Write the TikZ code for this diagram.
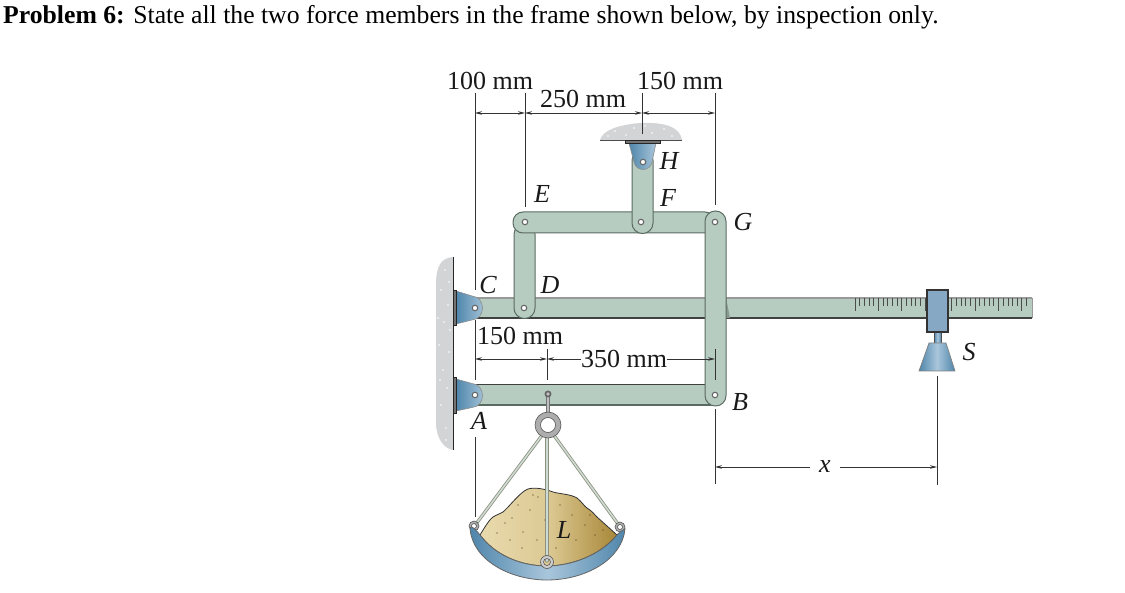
\documentclass[tikz,border=0pt]{standalone}
\usepackage{fontspec}
\setmainfont{Liberation Serif}
\usetikzlibrary{arrows.meta,shadings}
\definecolor{linkc}{HTML}{B6CCC0}
\definecolor{linke}{HTML}{5A6B62}
\definecolor{blu}{HTML}{86A8C4}
\definecolor{blul}{HTML}{A9C6DB}
\definecolor{blud}{HTML}{4F86AB}
\definecolor{wallc}{HTML}{D2D4D6}
\definecolor{sandl}{HTML}{E9DAAE}
\definecolor{sandm}{HTML}{DCC993}
\definecolor{sandr}{HTML}{A88738}
\definecolor{rim}{HTML}{8F8F7E}
\tikzset{
 txt/.style={inner sep=0pt,font=\fontsize{26}{28}\selectfont,text=black!90},
 lbl/.style={inner sep=0pt,font=\fontsize{26}{28}\selectfont\itshape,text=black!90},
 ext/.style={line width=0.9pt,draw=black!80},
 dimar/.style={line width=0.8pt,draw=black!80,{Stealth[length=7pt,width=3.6pt]}-{Stealth[length=7pt,width=3.6pt]}},
 dimone/.style={line width=0.8pt,draw=black!80,-{Stealth[length=7pt,width=3.6pt]}},
 linkshape/.style={fill=linkc,draw=linke,line width=1pt},
 pinnode/.style={circle,draw=black!60,fill=white,line width=1.1pt,minimum size=5.5pt,inner sep=0pt},
 brk/.style={draw=black!45,line width=0.6pt,left color=blud,right color=blul},
 plate/.style={fill=black!55,draw=black!85,line width=0.5pt},
 rope/.style={line width=3.2pt,draw=rim,line cap=round},
 ropein/.style={line width=1.6pt,draw=linkc!70!white,line cap=round},
 metal/.style={draw=black!65,fill=black!32,line width=0.6pt,even odd rule},
 speck/.style={fill=white},
 grain/.style={fill=black!70!brown},
}
\begin{document}
\begin{tikzpicture}[x=1pt,y=-1pt]
\useasboundingbox (0,0) rectangle (1125,593);
\fill[white] (0,0) rectangle (1125,593);
% title
\node[anchor=west,inner sep=0pt,font=\fontsize{25.7}{28}\selectfont] (title) at (3,17.5) {\textbf{Problem 6:} State all the two force members in the frame shown below, by inspection only.};
% wall
\fill[wallc] (453,257) .. controls (441,258) and (436,266) .. (436,285) -- (436,425) .. controls (437,440) and (445,449) .. (453,450) -- cycle;
\foreach \p/\r in {445/270,441/290,448/305,444/322,439/345,449/352,443/370,447/388,441/405,446/428,449/282,438/318,446/440,450/330,440/380}{
  \fill[speck] (\p,\r) circle (0.9pt);}
\draw[line width=0.9pt,black!85] (453,257) -- (453,450);
% ceiling
\fill[wallc] (600,140) .. controls (603,130) and (618,125) .. (640,123) .. controls (665,122) and (680,127) .. (682,140) -- cycle;
\foreach \p/\r in {615/131,626/135,634/128,652/133,664/129,672/136,608/136,645/126}{
  \fill[speck] (\p,\r) circle (0.8pt);}
\draw[line width=0.6pt,black!70] (600,140) -- (682,140);
% horizontal bars
\fill[linkc] (470,298) rectangle (1032,318);
\draw[line width=1.2pt,black!40] (470,298) -- (1032,298);
\draw[line width=1.2pt,black!75] (470,318) -- (1032,318);
\draw[line width=0.6pt,black!40] (1032,298) -- (1032,318);
\fill[linkc!75!black] (726,298) -- (730,318) -- (726,318) -- cycle;
\fill[linkc] (470,384) rectangle (715,405);
\draw[line width=0.9pt,black!75] (470,384) -- (715,384);
\draw[line width=1.2pt,linke] (470,405) -- (715,405);
% scale ticks
\foreach \i in {0,...,15}{
  \pgfmathsetmacro\xx{855+4.67*\i}
  \pgfmathtruncatemacro\mm{mod(\i,5)}
  \ifnum\mm=0 \draw[line width=0.6pt,black!70] (\xx,298) -- (\xx,311);
  \else \draw[line width=0.5pt,black!70] (\xx,298) -- (\xx,306); \fi}
\foreach \i in {0,...,16}{
  \pgfmathsetmacro\xx{951.7+4.67*\i}
  \pgfmathtruncatemacro\mm{mod(\i,5)}
  \ifnum\mm=0 \draw[line width=0.6pt,black!70] (\xx,298) -- (\xx,311);
  \else \draw[line width=0.5pt,black!70] (\xx,298) -- (\xx,306); \fi}
% links
\draw[linkshape,rounded corners=10.4pt] (514,224) -- (514,318.5) -- (535,318.5) -- (535,224) -- cycle;
\draw[linkshape,rounded corners=10pt] (715,212) -- (513,212) -- (513,233) -- (715,233) -- cycle;
\draw[linkshape,rounded corners=10.4pt] (632,150) -- (632,233.5) -- (653,233.5) -- (653,150) -- cycle;
\draw[linkshape,rounded corners=10.4pt] (705,211) rectangle (726,406);
% H bracket
\draw[brk] (629,143) -- (656,143) -- (652,162) .. controls (650,172) and (636,172) .. (634,162) -- cycle;
\draw[plate] (625.5,140) rectangle (660.5,143.5);
% C, A brackets
\draw[brk] (456,291) -- (472,296) .. controls (486,297) and (486,319) .. (472,320) -- (456,324) -- cycle;
\draw[plate] (453,290) rectangle (456.5,325);
\draw[brk] (456,379) -- (472,383.5) .. controls (486,384.5) and (486,406.5) .. (472,407.5) -- (456,411) -- cycle;
\draw[plate] (453,377) rectangle (456.5,413);
% pins
\node[pinnode] (E) at (525,222) {};
\node[pinnode] (F) at (641,222) {};
\node[pinnode] (G) at (715,222) {};
\node[pinnode] (H) at (643,162) {};
\node[pinnode] (C) at (475,308) {};
\node[pinnode] (D) at (524,308) {};
\node[pinnode] (A) at (475,395) {};
\node[pinnode] (B) at (715,395) {};
% slider
\draw[line width=0.8pt,black!70,left color=blud,right color=blud,middle color=blul] (934,332) rectangle (941,344);
\draw[line width=1.1pt,black!80,fill=blu] (927,290) rectangle (948,332);
\draw[line width=0.7pt,black!50,left color=blud,right color=blud,middle color=blul] (929,343) -- (946,343) -- (955,371) -- (919,371) -- cycle;
% hanger
\draw[line width=4.5pt,black!55] (548,396) -- (548,413);
\draw[line width=2.5pt,black!25] (548,396) -- (548,413);
\fill[black!60] (548,394) circle (3.5pt);
\fill[black!25] (548,394) circle (1.8pt);
% pan and sand
\draw[line width=0.8pt,black!80,left color=sandl,right color=sandr,middle color=sandm]
 (480,535) .. controls (486,525) and (490,519) .. (493,517) .. controls (498,514) and (500,514) .. (503,512) .. controls (510,506) and (520,492) .. (528,489)
 .. controls (535,487) and (545,489) .. (553,492) .. controls (560,494) and (570,494) .. (577,498) .. controls (582,502) and (584,506) .. (587,508)
 .. controls (592,511) and (594,514) .. (597,517) -- (617,535) .. controls (600,556) and (570,566) .. (547,566) .. controls (520,566) and (495,555) .. (480,535) -- cycle;
\foreach \p/\r in {497/533,505/523,512/518,518/505,523/532,530/510,537/540,545/520,538/497,560/505,572/515,585/525,595/535,576/540,522/548,510/540,533/495,556/548,590/515,603/530}{
  \fill[grain] (\p,\r) circle (0.7pt);}
\node[lbl] (Lbl) at (564,530) {L};
% ropes
\coordinate (ringc) at (548,425);
\coordinate (pl) at (476,524);
\coordinate (pr) at (618,524);
\coordinate (pc) at (547,561);
\coordinate (rl) at (543,434);
\coordinate (rr) at (553,434);
\coordinate (rc) at (547,434);
\draw[rope] (rl) -- (pl); \draw[ropein] (rl) -- (pl);
\draw[rope] (rr) -- (pr); \draw[ropein] (rr) -- (pr);
\draw[rope] (rc) -- (pc); \draw[ropein] (rc) -- (pc);
\path[metal] (ringc) circle (13pt) (ringc) circle (7.5pt);
\path[metal] (474,526) circle (5pt) (474,526) circle (2.5pt);
\path[metal] (620,527) circle (5pt) (620,527) circle (2.5pt);
\draw[line width=0.8pt,black!60,left color=blud,right color=blud,middle color=blul]
 (470,528) .. controls (472,525) and (476,530) .. (480,535) .. controls (495,555) and (520,566) .. (547,566) .. controls (570,566) and (600,556) .. (617,535) .. controls (620,532) and (622,530) .. (625,529)
 .. controls (622,560) and (585,580) .. (547,580) .. controls (510,580) and (472,560) .. (470,528) -- cycle;
\path[metal,fill=black!20] (547,562) circle (6.5pt) (547,562) circle (3.5pt);
% extension lines
\coordinate (a1) at (475,93); \coordinate (a2) at (475,290);
\coordinate (a3) at (475,320); \coordinate (a4) at (475,380);
\coordinate (a5) at (475,437); \coordinate (a6) at (475,517);
\coordinate (b1) at (525,93); \coordinate (b2) at (525,207);
\coordinate (c1) at (642,93); \coordinate (c2) at (642,134);
\coordinate (d1) at (715,93); \coordinate (d2) at (715,205);
\coordinate (e1) at (547,349); \coordinate (e2) at (547,380);
\coordinate (f1) at (715,349); \coordinate (f2) at (715,380);
\coordinate (g1) at (715,409); \coordinate (g2) at (715,484);
\coordinate (h1) at (937,376); \coordinate (h2) at (937,485);
\foreach \u/\v in {a1/a2,a3/a4,a5/a6,b1/b2,c1/c2,d1/d2,e1/e2,f1/f2,g1/g2,h1/h2}{\draw[ext] (\u) -- (\v);}
% dimension lines
\coordinate (t1) at (475,113); \coordinate (t2) at (525,113); \coordinate (t3) at (642,113); \coordinate (t4) at (715,113);
\coordinate (m1) at (475,359); \coordinate (m2) at (547,359); \coordinate (m3) at (715,359);
\coordinate (x1) at (715,467); \coordinate (x2) at (937,467);
\draw[dimar] (t1) -- (t2);
\draw[dimar] (t2) -- (t3);
\draw[dimar] (t3) -- (t4);
\draw[dimar] (m1) -- (m2);
% labels
\node[txt] (l100) at (490,81) {100 mm};
\node[txt] (l250) at (583,99) {250 mm};
\node[txt] (l150) at (680,81) {150 mm};
\node[txt] (l150b) at (520,336) {150 mm};
\node[txt] (l350) at (624,359) {350 mm};
\node[lbl,inner xsep=9pt] (lx) at (825,467) {x};
\draw[dimone] (l350.west) -- (m2);
\draw[dimone] (l350.east) -- (m3);
\draw[dimone] (lx.west) -- (x1);
\draw[dimone] (lx.east) -- (x2);
\node[lbl] (lE) at (542,194) {E};
\node[lbl] (lF) at (668,198) {F};
\node[lbl] (lH) at (669,161) {H};
\node[lbl] (lG) at (743,222) {G};
\node[lbl] (lC) at (488,285) {C};
\node[lbl] (lD) at (550,285) {D};
\node[lbl] (lA) at (479,421) {A};
\node[lbl] (lB) at (740,402) {B};
\node[lbl] (lS) at (969,352) {S};
\end{tikzpicture}
\end{document}
